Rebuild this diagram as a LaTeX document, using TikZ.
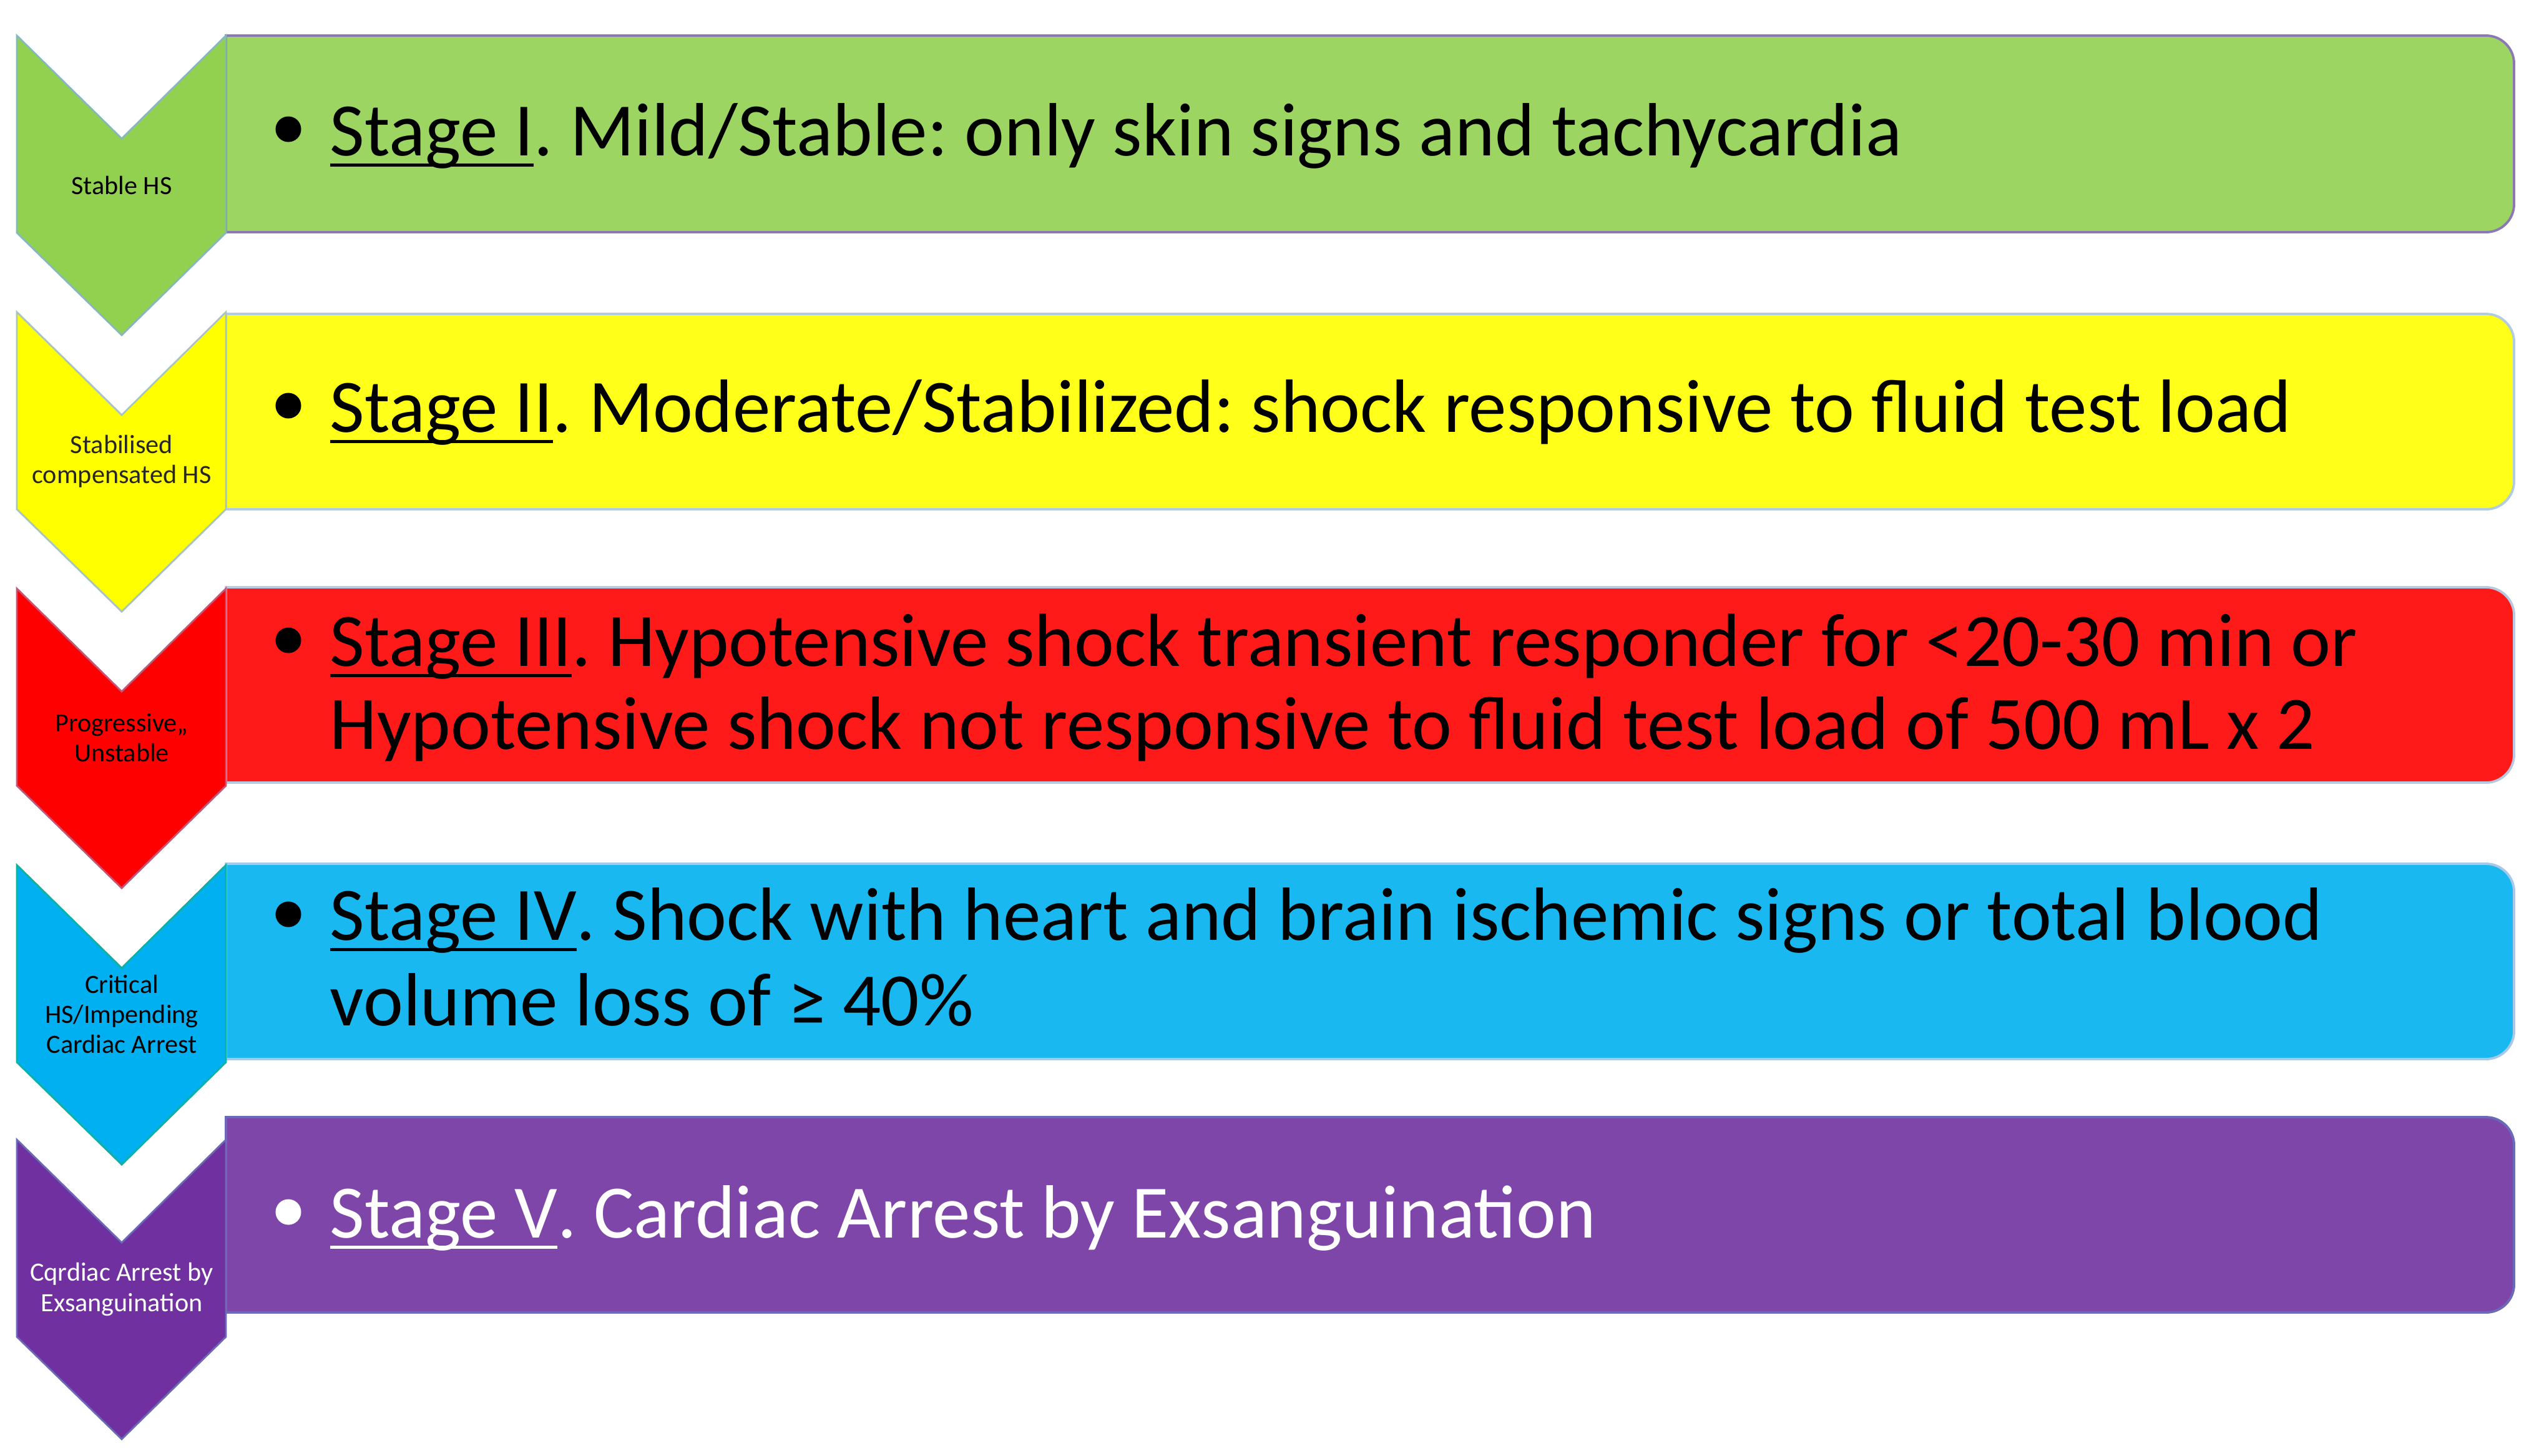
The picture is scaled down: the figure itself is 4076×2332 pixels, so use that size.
\documentclass[tikz,border=0pt]{standalone}
\usepackage{fontspec}
\setmainfont{Carlito}
\frenchspacing
\definecolor{gchev}{HTML}{92D050}
\definecolor{gbox}{HTML}{9DD563}
\definecolor{gline}{HTML}{8C78B4}
\definecolor{gchevline}{HTML}{84B8BC}
\definecolor{ychev}{HTML}{FFFF00}
\definecolor{ybox}{HTML}{FFFF19}
\definecolor{yline}{HTML}{B0CCE0}
\definecolor{ychevline}{HTML}{A8C4C0}
\definecolor{rchev}{HTML}{FF0000}
\definecolor{rbox}{HTML}{FF1A1A}
\definecolor{rline}{HTML}{B8C8E0}
\definecolor{rchevline}{HTML}{C0587A}
\definecolor{bchev}{HTML}{00B0F0}
\definecolor{bbox}{HTML}{1AB8F0}
\definecolor{bline}{HTML}{A8C8E8}
\definecolor{bchevline}{HTML}{10B0A0}
\definecolor{pchev}{HTML}{7030A0}
\definecolor{pbox}{HTML}{7F46A9}
\definecolor{pline}{HTML}{6A6AB8}
\newcommand\mainfs{\fontsize{34.4pt}{37.8pt}\selectfont}
\newcommand\labfs{\fontsize{12pt}{13.7pt}\selectfont}
\newcommand\myul[1]{\setbox0\hbox{#1}\rlap{\rule[-0.15em]{\wd0}{0.045em}}\box0}
\tikzset{
  boxline/.style={line width=1.1pt},
  chevline/.style={line width=0.8pt},
  maintext/.style={anchor=base west, inner sep=0pt, font=\mainfs},
  labtext/.style={align=center, inner sep=0pt, font=\labfs},
  bulletdot/.style={circle, inner sep=0pt, minimum size=0.41cm},
}
\newcommand\stagebox[4]{% top, bottom, fill, draw
  \filldraw[boxline, fill=#3, draw=#4] (362,#1) -- (3983,#1)
    arc[start angle=270, end angle=360, radius=45] -- (4028,#2-45)
    arc[start angle=0, end angle=90, radius=45] -- (362,#2) -- cycle;}
\newcommand\chevron[3]{% top, fill, draw
  \filldraw[chevline, fill=#2, draw=#3] (27,#1) -- (195,#1+165) -- (362,#1)
    -- (362,#1+316) -- (195,#1+480) -- (27,#1+316) -- cycle;}
\begin{document}
\begin{tikzpicture}[x=0.01cm, y=-0.01cm]
\fill[white] (0,0) rectangle (4076,2332);
\useasboundingbox (0,0) rectangle (4076,2332);
% boxes
\stagebox{57}{372}{gbox}{gline}
\stagebox{503}{816}{ybox}{yline}
\stagebox{941}{1254}{rbox}{rline}
\stagebox{1384}{1697}{bbox}{bline}
\stagebox{1790}{2103}{pbox}{pline}
% chevrons
\chevron{57}{gchev}{gchevline}
\chevron{500}{ychev}{ychevline}
\chevron{943}{rchev}{rchevline}
\chevron{1386}{bchev}{bchevline}
\chevron{1826}{pchev}{pline}
% chevron labels
\node[labtext] (l1) at (195,297) {Stable HS};
\node[labtext, text=black!85] (l2) at (195,739) {Stabilised\\compensated HS};
\node[labtext] (l3) at (195,1182) {Progressive,,\\Unstable};
\node[labtext] (l4) at (195,1625) {Critical\\HS/Impending\\Cardiac Arrest};
\node[labtext, text=white] (l5) at (195,2066) {Cqrdiac Arrest by\\Exsanguination};
% bullets
\node[bulletdot, fill=black] (b1) at (462,207) {};
\node[bulletdot, fill=black] (b2) at (462,650) {};
\node[bulletdot, fill=black] (b3) at (462,1026) {};
\node[bulletdot, fill=black] (b4) at (462,1465) {};
\node[bulletdot, fill=white] (b5) at (462,1942) {};
% texts
\node[maintext] (s1) at (528,249) {\myul{Stage I}. Mild/Stable: only skin signs and tachycardia};
\node[maintext] (s2) at (528,692) {\myul{Stage II}. Moderate/Stabilized: shock responsive to fluid test load};
\node[maintext] (s3a) at (528,1067) {\myul{Stage III}. Hypotensive shock transient responder for <20-30 min or};
\node[maintext] (s3b) at (528,1200) {Hypotensive shock not responsive to fluid test load of 500 mL x 2};
\node[maintext] (s4a) at (528,1506) {\myul{Stage IV}. Shock with heart and brain ischemic signs or total blood};
\node[maintext] (s4b) at (528,1643) {volume loss of ≥ 40\%};
\node[maintext, text=white] (s5) at (528,1983) {\myul{Stage V}. Cardiac Arrest by Exsanguination};
\end{tikzpicture}
\end{document}
